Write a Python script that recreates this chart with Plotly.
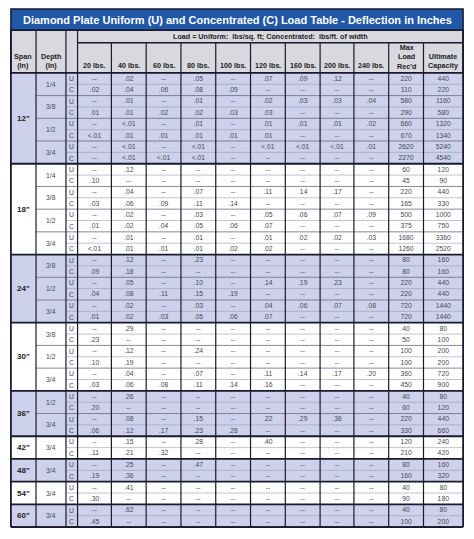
import plotly.graph_objects as go

title = "Diamond Plate Uniform (U) and Concentrated (C) Load Table - Deflection in Inches"
load_header = "Load = Uniform:  lbs/sq. ft; Concentrated:  lbs/ft. of width"
col_labels = ["20 lbs.", "40 lbs.", "60 lbs.", "80 lbs.", "100 lbs.", "120 lbs.", "160 lbs.", "200 lbs.", "240 lbs.", "Max<br>Load<br>Rec'd", "Ultimate<br>Capacity"]

spans = ['12"', '18"', '24"', '30"', '36"', '42"', '48"', '54"', '60"']
depths = [["1/4", "3/8", "1/2", "3/4"], ["1/4", "3/8", "1/2", "3/4"], ["3/8", "1/2", "3/4"],
          ["3/8", "1/2", "3/4"], ["1/2", "3/4"], ["3/4"], ["3/4"], ["3/4"], ["3/4"]]
D = "--"
values = [
    # 12"
    [D, ".02", D, ".05", D, ".07", ".09", ".12", D, "220", "440"],
    [".02", ".04", ".06", ".08", ".09", D, D, D, D, "110", "220"],
    [D, ".01", D, ".01", D, ".02", ".03", ".03", ".04", "580", "1160"],
    [".01", ".01", ".02", ".02", ".03", ".03", D, D, D, "290", "580"],
    [D, "<.01", D, ".01", D, ".01", ".01", ".01", ".02", "660", "1320"],
    ["<.01", ".01", ".01", ".01", ".01", ".01", D, D, D, "670", "1340"],
    [D, "<.01", D, "<.01", D, "<.01", "<.01", "<.01", ".01", "2620", "5240"],
    [D, "<.01", "<.01", "<.01", D, D, D, D, D, "2270", "4540"],
    # 18"
    [D, ".12", D, D, D, D, D, D, D, "60", "120"],
    [".10", D, D, D, D, D, D, D, D, "45", "90"],
    [D, ".04", D, ".07", D, ".11", ".14", ".17", D, "220", "440"],
    [".03", ".06", ".09", ".11", ".14", D, D, D, D, "165", "330"],
    [D, ".02", D, ".03", D, ".05", ".06", ".07", ".09", "500", "1000"],
    [".01", ".02", ".04", ".05", ".06", ".07", D, D, D, "375", "750"],
    [D, ".01", D, ".01", D, ".01", ".02", ".02", ".03", "1680", "3360"],
    ["<.01", ".01", ".01", ".01", ".02", ".02", D, D, D, "1260", "2520"],
    # 24"
    [D, ".12", D, ".23", D, D, D, D, D, "80", "160"],
    [".09", ".18", D, D, D, D, D, D, D, "80", "160"],
    [D, ".05", D, ".10", D, ".14", ".19", ".23", D, "220", "440"],
    [".04", ".08", ".11", ".15", ".19", D, D, D, D, "220", "440"],
    [D, ".02", D, ".03", D, ".04", ".06", ".07", ".08", "720", "1440"],
    [".01", ".02", ".03", ".05", ".06", ".07", D, D, D, "720", "1440"],
    # 30"
    [D, ".29", D, D, D, D, D, D, D, "40", "80"],
    [".23", D, D, D, D, D, D, D, D, "50", "100"],
    [D, ".12", D, ".24", D, D, D, D, D, "100", "200"],
    [".10", ".19", D, D, D, D, D, D, D, "100", "200"],
    [D, ".04", D, ".07", D, ".11", ".14", ".17", ".20", "360", "720"],
    [".03", ".06", ".08", ".11", ".14", ".16", D, D, D, "450", "900"],
    # 36"
    [D, ".26", D, D, D, D, D, D, D, "40", "80"],
    [".20", D, D, D, D, D, D, D, D, "60", "120"],
    [D, ".08", D, ".15", D, ".22", ".29", ".36", D, "220", "440"],
    [".06", ".12", ".17", ".23", ".28", D, D, D, D, "330", "660"],
    # 42"
    [D, ".15", D, ".28", D, ".40", D, D, D, "120", "240"],
    [".11", ".21", ".32", D, D, D, D, D, D, "210", "420"],
    # 48"
    [D, ".25", D, ".47", D, D, D, D, D, "80", "160"],
    [".19", ".36", D, D, D, D, D, D, D, "160", "320"],
    # 54"
    [D, ".41", D, D, D, D, D, D, D, "40", "80"],
    [".30", D, D, D, D, D, D, D, D, "90", "180"],
    # 60"
    [D, ".62", D, D, D, D, D, D, D, "40", "80"],
    [".45", D, D, D, D, D, D, D, D, "100", "200"],
]

# layout geometry (pixel-like axis units)
W, H = 474, 539
FW, FH = 458, 522
xb = [3, 29, 60, 72, 107, 143, 179, 215, 251, 287, 323, 358, 394, 430, 471]
y_title, y_load, y_cols, y_data, y_end = 1, 23, 36, 67, 536
n = len(values)
rh = (y_end - y_data) / n
BLUE = "#cdd1ec"
HEAD = "#d8d9de"
LINE = "#1a1a2e"
TXT = "#4a4a55"

shapes, tx, ty, tt = [], [], [], []
def rect(x0, x1, y0, y1, fill, lw=0, lc=LINE):
    shapes.append(dict(type="rect", xref="x", yref="y", x0=x0, x1=x1, y0=y0, y1=y1,
                       fillcolor=fill, line=dict(width=lw, color=lc), layer="below"))
def line(x0, y0, x1, y1, w, c):
    shapes.append(dict(type="line", xref="x", yref="y", x0=x0, x1=x1, y0=y0, y1=y1,
                       line=dict(width=w, color=c)))

anns = []
def ann(x, y, s, size, color, bold=False):
    anns.append(dict(x=x, y=y, xref="x", yref="y", text=f"<b>{s}</b>" if bold else s, showarrow=False,
                     font=dict(size=size, color=color, family="Liberation Sans, Arial"), align="center"))

rect(xb[0], xb[-1], y_title, y_load, "#2258a8", 1.5)
ann((xb[0] + xb[-1]) / 2, (y_title + y_load) / 2, title, 11, "white", True)
rect(xb[0], xb[-1], y_load, y_data, HEAD, 1.5)
ann((xb[3] + xb[-1]) / 2, (y_load + y_cols) / 2, load_header, 7.2, "#222", True)
line(xb[3], y_cols, xb[-1], y_cols, 1.5, LINE)
ann((xb[0] + xb[1]) / 2, 55, "Span<br>(In)", 7.2, "#222", True)
ann((xb[1] + xb[2]) / 2, 55, "Depth<br>(In)", 7.2, "#222", True)
for i, lab in enumerate(col_labels):
    cx = (xb[i + 3] + xb[i + 4]) / 2
    yy = 59 if "<br>" not in lab else (51 if lab.count("<br>") == 2 else 55)
    ann(cx, yy, lab, 7.2, "#222", True)

r = 0
for si, sp in enumerate(spans):
    nrow = 2 * len(depths[si])
    y0 = y_data + r * rh
    y1 = y0 + nrow * rh
    fill = BLUE if si % 2 == 0 else "white"
    rect(xb[0], xb[-1], y0, y1, fill)
    ann((xb[0] + xb[1]) / 2, (y0 + y1) / 2, sp, 8, "#222", True)
    for di, dp in enumerate(depths[si]):
        dy0 = y0 + 2 * di * rh
        ann((xb[1] + xb[2]) / 2, dy0 + rh, dp, 6.8, TXT)
        for k, uc in enumerate(["U", "C"]):
            ry = dy0 + k * rh
            ann((xb[2] + xb[3]) / 2, ry + rh / 2, uc, 6.8, TXT)
            for ci, v in enumerate(values[r + 2 * di + k]):
                tx.append((xb[ci + 3] + xb[ci + 4]) / 2)
                ty.append(ry + rh / 2 + 0.5)
                tt.append(v)
            if k == 0:
                line(xb[2], ry + rh, xb[-1], ry + rh, 0.6, "#9a9aae")
        if di > 0:
            line(xb[1], dy0, xb[-1], dy0, 0.8, "#6a6a80")
    line(xb[0], y1, xb[-1], y1, 1.8, LINE)
    r += nrow

for i, x in enumerate(xb):
    top = y_load if (i in (0, len(xb) - 1) or i < 4) else y_cols
    line(x, top, x, y_end, 1.8 if i in (0, len(xb) - 1) else 1.2, LINE)
line(xb[0], y_data, xb[-1], y_data, 1.8, LINE)
line(xb[0], y_end, xb[-1], y_end, 1.8, LINE)

fig = go.Figure(go.Scatter(x=tx, y=ty, text=tt, mode="text", hoverinfo="skip", cliponaxis=False,
                           textfont=dict(size=6.8, color=TXT, family="Liberation Sans, Arial")))
fig.update_layout(width=FW, height=FH, margin=dict(l=0, r=0, t=0, b=0), showlegend=False,
                  paper_bgcolor="white", plot_bgcolor="white", shapes=shapes, annotations=anns,
                  xaxis=dict(range=[0, W], visible=False, fixedrange=True),
                  yaxis=dict(range=[H, 0], visible=False, fixedrange=True))
fig.write_html("out.html", config={"displayModeBar": False})
